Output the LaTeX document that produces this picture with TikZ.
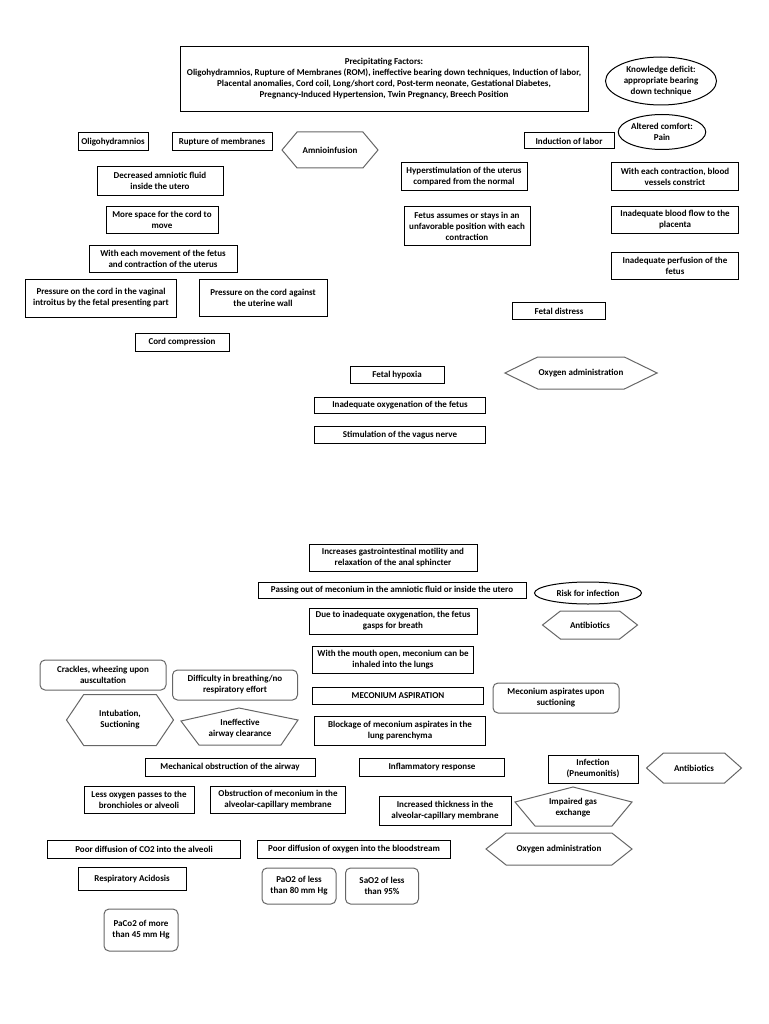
\documentclass[tikz,border=0pt]{standalone}
\usepackage{fontspec}
\setmainfont{Carlito}
\usepackage{tikz}
\usetikzlibrary{shapes.geometric,shapes.symbols}

\tikzset{
  box/.style={draw, line width=1pt, align=center, inner sep=1pt, font=\fontsize{9}{11}\selectfont\bfseries},
  rbox/.style={box, rounded corners=5pt, draw=black!60},
  ell/.style={box, ellipse, inner sep=0pt},
  hexa/.style={box, signal, signal to=west and east, draw=black!60, signal pointer angle=#1},
  txt/.style={align=center, inner sep=0pt, font=\fontsize{9}{11}\selectfont\bfseries},
  penta/.style={draw=black!60, line width=1pt}
}

\begin{document}
\begin{tikzpicture}[x=1pt,y=-1pt]
                      \useasboundingbox (0,0) rectangle (768,1024);
                      \node[box, minimum width=408, minimum height=65] (factors) at (384,79) {Precipitating Factors:\\Oligohydramnios, Rupture of Membranes (ROM), ineffective bearing down techniques, Induction of labor,\\Placental anomalies, Cord coil, Long/short cord, Post-term neonate, Gestational Diabetes,\\Pregnancy-Induced Hypertension, Twin Pregnancy, Breech Position};
                      \node[ell, minimum width=111, minimum height=48] (knowledge) at (661,81) {Knowledge deficit:\\appropriate bearing\\down technique};
                      \node[ell, minimum width=80, minimum height=35] (comfort) at (662,132) {Altered comfort:\\Pain};
                      \node[box, minimum width=70, minimum height=18] (oligo) at (113,142) {Oligohydramnios};
                      \node[box, minimum width=100, minimum height=18] (rupture) at (222,142) {Rupture of membranes};
                      \node[hexa=100, minimum width=96, minimum height=36] (amnio) at (330,150) {Amnioinfusion};
                      \node[box, minimum width=90, minimum height=16] (induction) at (569,141) {Induction of labor};
                      \node[box, minimum width=126, minimum height=29] (decreased) at (160,181) {Decreased amniotic fluid\\inside the utero};
                      \node[box, minimum width=112, minimum height=27] (space) at (162,220) {More space for the cord to\\move};
                      \node[box, minimum width=148, minimum height=27] (movement) at (163,259) {With each movement of the fetus\\and contraction of the uterus};
                      \node[box, minimum width=151, minimum height=38] (vaginal) at (101,298) {Pressure on the cord in the vaginal\\introitus by the fetal presenting part};
                      \node[box, minimum width=128, minimum height=37] (uterine) at (263,298) {Pressure on the cord against\\the uterine wall};
                      \node[box, minimum width=94, minimum height=18] (compression) at (182,342) {Cord compression};
                      \node[box, minimum width=126, minimum height=28] (hyper) at (464,177) {Hyperstimulation of the uterus\\compared from the normal};
                      \node[box, minimum width=126, minimum height=39] (assumes) at (467,226) {Fetus assumes or stays in an\\unfavorable position with each\\contraction};
                      \node[box, minimum width=127, minimum height=28] (vessels) at (675,177) {With each contraction, blood\\vessels constrict};
                      \node[box, minimum width=127, minimum height=27] (bloodflow) at (675,220) {Inadequate blood flow to the\\placenta};
                      \node[box, minimum width=127, minimum height=27] (perfusion) at (675,266) {Inadequate perfusion of the\\fetus};
                      \node[box, minimum width=93, minimum height=17] (distress) at (559,311) {Fetal distress};
                      \node[box, minimum width=94, minimum height=17] (hypoxia) at (397,375) {Fetal hypoxia};
                      \node[hexa=52, minimum width=148, minimum height=32] (oxygenA) at (581,373) {Oxygen administration};
                      \node[box, minimum width=171, minimum height=16] (oxygenation) at (400,405) {Inadequate oxygenation of the fetus};
                      \node[box, minimum width=171, minimum height=17] (vagus) at (400,435) {Stimulation of the vagus nerve};
                      \node[box, minimum width=168, minimum height=27] (motility) at (393,558) {Increases gastrointestinal motility and\\relaxation of the anal sphincter};
                      \node[box, minimum width=268, minimum height=16] (passing) at (392,590) {Passing out of meconium in the amniotic fluid or inside the utero};
                      \node[ell, minimum width=107, minimum height=22] (risk) at (588,593) {Risk for infection};
                      \node[box, minimum width=168, minimum height=26] (gasps) at (393,621) {Due to inadequate oxygenation, the fetus\\gasps for breath};
                      \node[hexa=76, minimum width=95, minimum height=28] (antibioticsA) at (590,625) {Antibiotics};
                      \node[box, minimum width=161, minimum height=27] (mouth) at (393,660) {With the mouth open, meconium can be\\inhaled into the lungs};
                      \node[rbox, minimum width=126, minimum height=30] (crackles) at (103,675) {Crackles, wheezing upon\\auscultation};
                      \node[rbox, minimum width=125, minimum height=30] (difficulty) at (235,685) {Difficulty in breathing/no\\respiratory effort};
                      \node[box, minimum width=171, minimum height=17] (aspiration) at (398,696) {MECONIUM ASPIRATION};
                      \node[rbox, minimum width=126, minimum height=30] (suctioning) at (556,698) {Meconium aspirates upon\\suctioning};
                      \node[hexa=112, minimum width=107, minimum height=51] (intubation) at (120,720) {Intubation,\\Suctioning};
                      \draw[penta] (181,721) -- (239,708) -- (298,720) -- (281,745) -- (199,745) -- cycle;
                      \node[txt] (clearance) at (240,729) {Ineffective\\airway clearance};
                      \node[box, minimum width=171, minimum height=29] (blockage) at (400,731) {Blockage of meconium aspirates in the\\lung parenchyma};
                      \node[box, minimum width=170, minimum height=18] (mechanical) at (230,767) {Mechanical obstruction of the airway};
                      \node[box, minimum width=145, minimum height=18] (inflammatory) at (432,767) {Inflammatory response};
                      \node[box, minimum width=90, minimum height=28] (infection) at (593,769) {Infection\\(Pneumonitis)};
                      \node[hexa=83, minimum width=95, minimum height=30] (antibioticsB) at (694,768) {Antibiotics};
                      \node[box, minimum width=110, minimum height=27] (lessoxygen) at (139,800) {Less oxygen passes to the\\bronchioles or alveoli};
                      \node[box, minimum width=135, minimum height=27] (obstruction) at (278,800) {Obstruction of meconium in the\\alveolar-capillary membrane};
                      \node[box, minimum width=132, minimum height=29] (thickness) at (445,811) {Increased thickness in the\\alveolar-capillary membrane};
                      \draw[penta] (515,802) -- (573,787) -- (632,802) -- (612,826) -- (535,826) -- cycle;
                      \node[txt] (gasexchange) at (573,808) {Impaired gas\\exchange};
                      \node[box, minimum width=193, minimum height=18] (diffusionCO) at (144,849) {Poor diffusion of CO2 into the alveoli};
                      \node[box, minimum width=193, minimum height=18] (diffusionO) at (354,849) {Poor diffusion of oxygen into the bloodstream};
                      \node[hexa=77, minimum width=146, minimum height=32] (oxygenB) at (559,849) {Oxygen administration};
                      \node[box, minimum width=108, minimum height=23] (acidosis) at (132,879) {Respiratory Acidosis};
                      \node[rbox, minimum width=74, minimum height=36] (pao) at (299,886) {PaO2 of less\\than 80 mm Hg};
                      \node[rbox, minimum width=73, minimum height=36] (sao) at (382,886) {SaO2 of less\\than 95\%};
                      \node[rbox, minimum width=74, minimum height=42] (paco) at (141,930) {PaCo2 of more\\than 45 mm Hg};
                  \end{tikzpicture}
\end{document}
